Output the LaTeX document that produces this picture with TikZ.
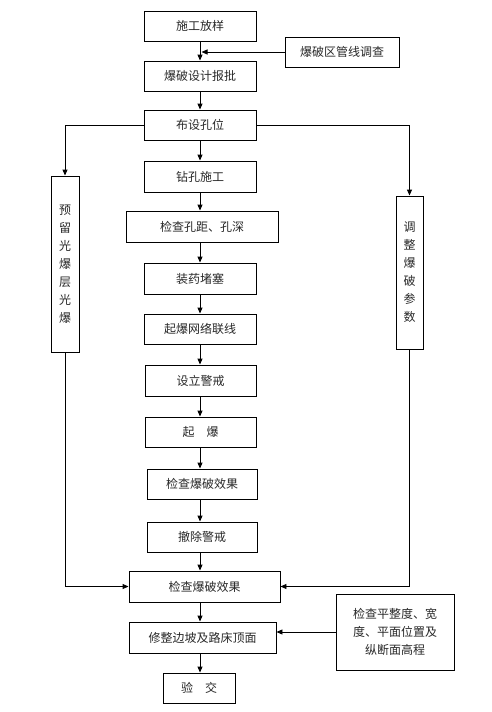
\documentclass[tikz,border=0pt]{standalone}
\usepackage{fontspec}
\usepackage{tikz}
\usetikzlibrary{arrows.meta, positioning}
\newfontfamily\cjk{Noto Sans CJK SC}
\definecolor{inkgray}{RGB}{40,40,40}

\begin{document}
\begin{tikzpicture}[
        x=1pt, y=-1pt,
        stepbox/.style={rectangle, draw=black, line width=0.9pt, minimum height=30pt,
                    inner sep=2pt, align=center, text=inkgray,
                    font=\cjk\fontsize{12}{18}\selectfont},
        tallbox/.style={stepbox, minimum width=28pt},
        arr/.style={-{Triangle[length=6pt, width=5pt]}, line width=0.9pt},
      ]
      \useasboundingbox (0,0) rectangle (491,712);
      % main column
      \node[stepbox, minimum width=112pt] (s1) at (200,26) {施工放样};
      \node[stepbox, minimum width=114pt] (pipe) at (342,52) {爆破区管线调查};
      \node[stepbox, minimum width=112pt] (s2) at (200,76) {爆破设计报批};
      \node[stepbox, minimum width=112pt] (s3) at (200,125) {布设孔位};
      \node[stepbox, minimum width=112pt, minimum height=31pt] (s4) at (200,176.5) {钻孔施工};
      \node[stepbox, minimum width=152pt, minimum height=31pt] (s5) at (202,226.5) {检查孔距、孔深};
      \node[stepbox, minimum width=112pt, minimum height=31pt] (s6) at (200,278.5) {装药堵塞};
      \node[stepbox, minimum width=112pt] (s7) at (200,329) {起爆网络联线};
      \node[stepbox, minimum width=111pt, minimum height=31pt] (s8) at (200.5,380.5) {设立警戒};
      \node[stepbox, minimum width=111pt] (s9) at (200.5,432) {起\quad 爆};
      \node[stepbox, minimum width=110pt] (s10) at (202,484) {检查爆破效果};
      \node[stepbox, minimum width=110pt] (s11) at (202,537) {撤除警戒};
      \node[stepbox, minimum width=151pt, minimum height=31pt] (s12) at (204.5,586.5) {检查爆破效果};
      \node[stepbox, minimum width=147pt, minimum height=31pt] (s13) at (202.5,637.5) {修整边坡及路床顶面};
      \node[stepbox, minimum width=72pt] (s14) at (199,688) {验\quad 交};
      % side boxes
      \node[tallbox, minimum height=176pt] (smooth) at (65,264)
        {预\\留\\光\\爆\\层\\光\\爆};
      \node[tallbox, minimum width=27pt, minimum height=153pt] (adjust) at (409.5,272.5)
        {调\\整\\爆\\破\\参\\数};
      \node[stepbox, minimum width=118pt, minimum height=76pt] (check) at (395,632)
        {检查平整度、宽\\度、平面位置及\\纵断面高程};

      \foreach \a/\b in {s1/s2, s2/s3, s3/s4, s4/s5, s5/s6, s6/s7, s7/s8,
                         s8/s9, s9/s10, s10/s11, s11/s12, s12/s13, s13/s14}
        \draw[arr] (s1.south |- \a.south) -- (s1.south |- \b.north);

      \draw[arr] (pipe.west) -- ([xshift=1.5pt]pipe.west -| s1.south);
      \draw[arr] (s3.west) -| (smooth.north);
      \draw[arr] (s3.east) -| (adjust.north);
      \draw[arr] (smooth.south) |- (s12.west);
      \draw[arr] (adjust.south) |- (s12.east);
      \draw[arr] (check.west) -- (check.west -| s13.east);
    \end{tikzpicture}
\end{document}
